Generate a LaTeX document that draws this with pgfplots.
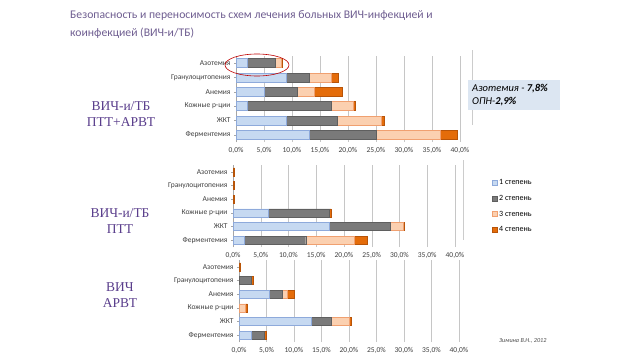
\documentclass[border=0pt]{standalone}
\usepackage{pgfplots}
\pgfplotsset{compat=1.18}
\usepackage{pgfplotstable}
\usepackage{fontspec}
\setmainfont{Carlito}
\newfontfamily\seriffont{Liberation Serif}
\definecolor{titlecol}{HTML}{6F5E91}
\definecolor{grpcol}{HTML}{5A3E8C}
\definecolor{cA}{HTML}{C6D9F1}
\definecolor{cAd}{HTML}{8EAADB}
\definecolor{cB}{HTML}{7A7A7A}
\definecolor{cBd}{HTML}{5F5F5F}
\definecolor{cC}{HTML}{FBD0B0}
\definecolor{cCd}{HTML}{F0A070}
\definecolor{cD}{HTML}{E46C0A}
\definecolor{cDd}{HTML}{B85408}
\definecolor{boxcol}{HTML}{DCE6F2}

\pgfplotstableread{
cat a b c d
0 13.0 12.0 11.5 3.0
1 9.0 9.0 8.0 0.4
2 2.0 15.0 4.0 0.3
3 5.0 6.0 3.0 5.0
4 9.0 4.0 4.0 1.2
5 2.0 5.0 1.0 0.3
}\tA
\pgfplotstableread{
cat a b c d
0 2.1 11.0 8.7 2.4
1 17.4 11.0 2.2 0.3
2 6.4 11.0 0.0 0.3
3 0.0 0.0 0.0 0.3
4 0.0 0.0 0.0 0.3
5 0.0 0.0 0.0 0.3
}\tB
\pgfplotstableread{
cat a b c d
0 2.2 2.4 0.0 0.3
1 13.2 3.5 3.4 0.3
2 0.0 0.0 1.2 0.3
3 5.5 2.3 1.0 1.3
4 0.0 2.2 0.0 0.4
5 0.0 0.0 0.0 0.3
}\tC

\pgfplotsset{
  mybars/.style={
    xbar stacked, scale only axis,
    xmin=0, xmax=40, ymin=-0.5, ymax=5.5,
    ytick={0,...,5},
    yticklabels={Ферментемия,ЖКТ,Кожные р-ции,Анемия,Гранулоцитопения,Азотемия},
    xtick={0,5,...,40},
    xticklabels={{0,0\%},{5,0\%},{10,0\%},{15,0\%},{20,0\%},{25,0\%},{30,0\%},{35,0\%},{40,0\%}},
    xmajorgrids, grid style={gray!45, line width=0.5pt},
    axis lines=left,
    x axis line style={draw=none},
    y axis line style={gray!70, -},
    xtick style={draw=none},
    ytick style={gray!70},
    tick align=outside, major tick length=2pt,
    ticklabel style={font=\fontsize{7.5}{8}\selectfont, text=black!75},
    xticklabel style={yshift=0pt},
  },
  sA/.style={fill=cA, draw=cAd, line width=0.4pt},
  sB/.style={fill=cB, draw=cBd, line width=0.4pt},
  sC/.style={fill=cC, draw=cCd, line width=0.4pt},
  sD/.style={fill=cD, draw=cDd, line width=0.4pt},
}

\begin{document}
\begin{tikzpicture}[x=1pt,y=1pt]
\path[use as bounding box, fill=white] (0,0) rectangle (640,360);

% title
\node[anchor=west, text=titlecol, font=\fontsize{11.7}{14}\selectfont, inner sep=0] at (70,345) {Безопасность и переносимость схем лечения больных ВИЧ-инфекцией и};
\node[anchor=west, text=titlecol, font=\fontsize{11.7}{14}\selectfont, inner sep=0] at (70,327) {коинфекцией (ВИЧ-и/ТБ)};

% chart borders
\draw[gray!40] (472,310) -- (472,235);
\draw[gray!40] (463,200) -- (463,120);

% chart 1
\begin{axis}[mybars, at={(236pt,218pt)}, anchor=south west, width=224pt, height=86pt, bar width=9pt]
\addplot[sA] table[x=a,y=cat]{\tA};
\addplot[sB] table[x=b,y=cat]{\tA};
\addplot[sC] table[x=c,y=cat]{\tA};
\addplot[sD] table[x=d,y=cat]{\tA};
\end{axis}

% chart 2
\begin{axis}[mybars, at={(233pt,113pt)}, anchor=south west, width=222pt, height=82pt, bar width=8pt,
  legend style={at={(1.165,0.85)}, anchor=north west, draw=none, fill=none,
    font=\fontsize{8}{9}\selectfont, row sep=5pt, inner sep=0pt},
  legend cell align=left,
  legend image code/.code={\draw[#1] (0pt,-2.5pt) rectangle (5pt,2.5pt);}]
\addplot[sA] table[x=a,y=cat]{\tB};
\addplot[sB] table[x=b,y=cat]{\tB};
\addplot[sC] table[x=c,y=cat]{\tB};
\addplot[sD] table[x=d,y=cat]{\tB};
\legend{1 степень,2 степень,3 степень,4 степень}
\end{axis}

% chart 3
\begin{axis}[mybars, at={(239pt,18pt)}, anchor=south west, width=220pt, height=82pt, bar width=8pt]
\addplot[sA] table[x=a,y=cat]{\tC};
\addplot[sB] table[x=b,y=cat]{\tC};
\addplot[sC] table[x=c,y=cat]{\tC};
\addplot[sD] table[x=d,y=cat]{\tC};
\end{axis}

% red ellipse
\draw[red!75!black, line width=0.6pt] (257,295) ellipse (32 and 11);

% group labels
\node[align=center, text=grpcol, font=\seriffont\fontsize{13.5}{16}\selectfont] at (121,246) {ВИЧ-и/ТБ\\ПТТ+АРВТ};
\node[align=center, text=grpcol, font=\seriffont\fontsize{13.5}{16}\selectfont] at (120,139) {ВИЧ-и/ТБ\\ПТТ};
\node[align=center, text=grpcol, font=\seriffont\fontsize{13.5}{16}\selectfont] at (120,65) {ВИЧ\\АРВТ};

% info box
\fill[boxcol] (468,250) rectangle (560,280);
\node[anchor=west, font=\itshape\fontsize{10.5}{11}\selectfont, inner sep=0] at (472,271) {Азотемия - \textbf{7,8\%}};
\node[anchor=west, font=\itshape\fontsize{10.5}{11}\selectfont, inner sep=0] at (472,258) {ОПН-\textbf{2,9\%}};

% source
\node[anchor=west, font=\itshape\fontsize{6.2}{7}\selectfont, text=black!70, inner sep=0] at (499,19) {Зимина В.Н., 2012};
\end{tikzpicture}
\end{document}
